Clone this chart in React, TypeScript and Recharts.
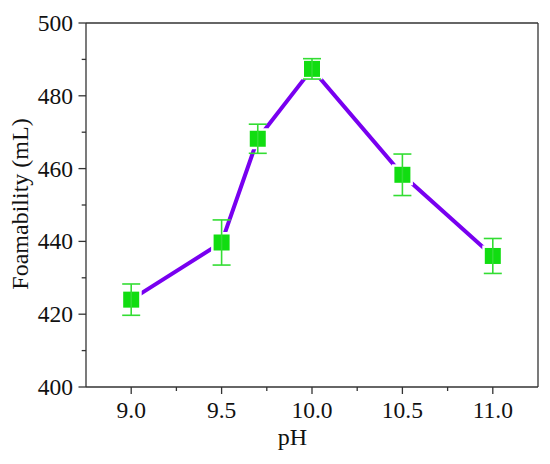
import React from 'react';
import { LineChart, Line, XAxis, YAxis, ErrorBar, ReferenceLine } from 'recharts';

const phValues = [9.0, 9.5, 9.7, 10.0, 10.5, 11.0];
const foamability = [424, 439.7, 468.2, 487.4, 458.3, 436];
const errors = [4.3, 6.2, 4, 2.8, 5.7, 4.8];

const xTicks = [9, 9.25, 9.5, 9.75, 10, 10.25, 10.5, 10.75, 11];
const xMajor = [9, 9.5, 10, 10.5, 11];
const yTicks = [400, 410, 420, 430, 440, 450, 460, 470, 480, 490, 500];
const yMajor = [400, 420, 440, 460, 480, 500];

const data = phValues.map((x, i) => ({ x, y: foamability[i], err: errors[i] }));

const FONT = "'Liberation Serif', 'Times New Roman', Tinos, serif";
const AXIS = '#333333';
const PURPLE = '#7800F0';
const GREEN = '#11DD11';
const ERR_GREEN = '#33DD33';

const textStyle = { fontFamily: FONT };

const XTick = (props: any) => {
  const { x, y, payload } = props;
  const v = payload.value;
  const major = xMajor.includes(v);
  return (
    <g>
      <line x1={x} x2={x} y1={y} y2={y + (major ? 7 : 4)} stroke={AXIS} strokeWidth={1.3} />
      {major && (
        <text x={x} y={y + 31} textAnchor="middle" style={textStyle} fontSize={23.5} fill="#111">
          {v.toFixed(1)}
        </text>
      )}
    </g>
  );
};

const YTick = (props: any) => {
  const { x, y, payload } = props;
  const v = payload.value;
  const major = yMajor.includes(v);
  return (
    <g>
      <line x1={x} x2={x - (major ? 7.5 : 4.3)} y1={y} y2={y} stroke={AXIS} strokeWidth={1.3} />
      {major && (
        <text x={x - 13} y={y + 8} textAnchor="end" style={textStyle} fontSize={23.5} fill="#111">
          {v}
        </text>
      )}
    </g>
  );
};

const XLabel = (props: any) => {
  const vb = props.viewBox || {};
  return (
    <text x={vb.x + vb.width / 2 - 19.5} y={vb.y + 58} textAnchor="middle" style={textStyle} fontSize={24} fill="#111">
      pH
    </text>
  );
};

const YLabel = (props: any) => {
  const vb = props.viewBox || {};
  const cx = 28;
  const cy = vb.y + vb.height / 2 - 1;
  return (
    <text x={cx} y={cy} transform={`rotate(-90, ${cx}, ${cy})`} textAnchor="middle" style={textStyle} fontSize={24} fill="#111">
      Foamability (mL)
    </text>
  );
};

const WhiteDot = (props: any) => {
  const { cx, cy } = props;
  if (cx == null || cy == null) return null;
  const s = 21;
  return <rect x={cx - s / 2} y={cy - s / 2} width={s} height={s} fill="#ffffff" />;
};

const GreenDot = (props: any) => {
  const { cx, cy } = props;
  if (cx == null || cy == null) return null;
  const s = 16;
  return <rect x={cx - s / 2} y={cy - s / 2} width={s} height={s} fill={GREEN} />;
};

export default function App() {
  return (
    <div style={{ position: 'absolute', left: 0, top: 0, width: 550, height: 464, background: '#fff' }}>
      <LineChart width={550} height={464} data={data} margin={{ top: 23, right: 12, bottom: 0, left: 0 }}>
        <XAxis
          type="number"
          dataKey="x"
          domain={[8.75, 11.25]}
          ticks={xTicks}
          interval={0}
          tickSize={0}
          tickMargin={0}
          tickLine={false}
          tick={(p: any) => <XTick {...p} />}
          axisLine={{ stroke: AXIS, strokeWidth: 1.3 }}
          height={77}
          label={(p: any) => <XLabel {...p} />}
        />
        <YAxis
          type="number"
          domain={[400, 500]}
          ticks={yTicks}
          interval={0}
          tickSize={0}
          tickMargin={0}
          tickLine={false}
          tick={(p: any) => <YTick {...p} />}
          axisLine={{ stroke: AXIS, strokeWidth: 1.3 }}
          width={86}
          label={(p: any) => <YLabel {...p} />}
        />
        <ReferenceLine y={500} stroke={AXIS} strokeWidth={1.3} />
        <ReferenceLine x={11.25} stroke={AXIS} strokeWidth={1.3} />
        <Line
          dataKey="y"
          stroke={PURPLE}
          strokeWidth={4}
          dot={false}
          activeDot={false}
          isAnimationActive={false}
        />
        <Line
          dataKey="y"
          stroke="none"
          dot={(p: any) => <WhiteDot key={`w${p.index}`} {...p} />}
          activeDot={false}
          isAnimationActive={false}
        />
        <Line
          dataKey="y"
          stroke="none"
          dot={(p: any) => <GreenDot key={`g${p.index}`} {...p} />}
          activeDot={false}
          isAnimationActive={false}
        >
          <ErrorBar dataKey="err" width={9} stroke={ERR_GREEN} strokeWidth={1.6} isAnimationActive={false} zIndex={2000} />
        </Line>
      </LineChart>
    </div>
  );
}
